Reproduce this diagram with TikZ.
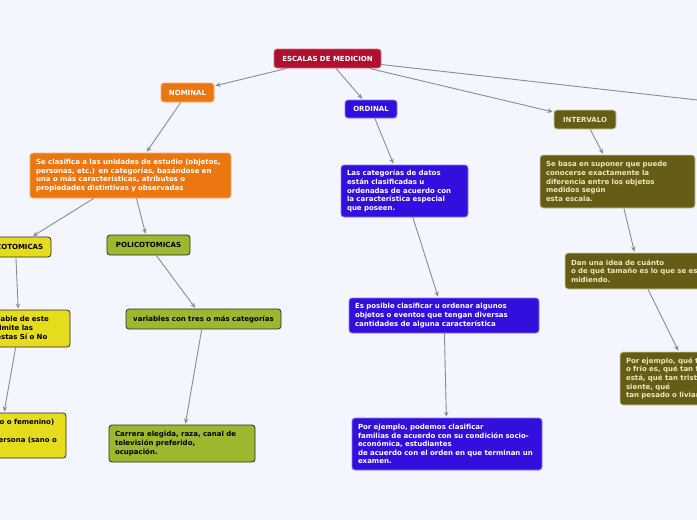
\documentclass[tikz,border=0pt]{standalone}
\usepackage{fontspec}
\setmainfont{DejaVu Sans}
\usetikzlibrary{arrows.meta}

\definecolor{bgcol}{RGB}{243,246,254}
\definecolor{linecol}{RGB}{140,140,140}
\definecolor{crimcol}{RGB}{176,16,48}
\definecolor{orngcol}{RGB}{236,119,16}
\definecolor{blucol}{RGB}{50,15,220}
\definecolor{olvcol}{RGB}{101,93,22}
\definecolor{olvtext}{RGB}{236,233,192}
\definecolor{yelwcol}{RGB}{230,220,30}
\definecolor{grencol}{RGB}{157,184,46}
\definecolor{darkline}{RGB}{45,45,30}

\begin{document}
\begin{tikzpicture}[x=1pt,y=-1pt,
    every node/.style={font=\bfseries\fontsize{7}{8.6}\selectfont,
      rounded corners=3pt, inner xsep=6pt, inner ysep=2pt, line width=.8pt},
    title/.style 2 args={minimum width=#1pt, minimum height=#2pt},
    para/.style 2 args={minimum width=#1pt, minimum height=#2pt,
      text width=#1pt-12pt, align=left},
    crim/.style={fill=crimcol, draw=crimcol!60!white, text=white},
    orng/.style={fill=orngcol, draw=orngcol!60!white, text=white},
    blu/.style={fill=blucol, draw=blucol!55!white, text=white},
    olv/.style={fill=olvcol, draw=olvtext!80!olvcol, text=olvtext},
    yelw/.style={fill=yelwcol, draw=darkline, text=black},
    gren/.style={fill=grencol, draw=darkline, text=black},
    conn/.style={draw=linecol, line width=.9pt,
      -{Stealth[length=5pt,width=4.5pt]}, shorten >=1pt}]

  \useasboundingbox (0,0) rectangle (697,520);
  \clip (0,0) rectangle (697,520);
  \fill[bgcol] (0,0) rectangle (697,520);

  % root
  \node[crim, title={107}{19}] (escalas) at (327.5,58.5) {ESCALAS DE MEDICION};
  \coordinate (escala4) at (760,107);

  % nominal
  \node[orng, title={53}{19}] (nominal) at (187.5,92.5) {NOMINAL};
  \node[orng, para={201}{45}] (nomdesc) at (130.5,175.5)
    {Se clasifica a las unidades de estudio (objetos,\\
     personas, etc.) en categorías, basándose en\\
     una o más características, atributos o\\
     propiedades distintivas y observadas};
  \node[yelw, title={71}{20}] (dicot) at (15.5,247) {DICOTOMICAS};
  \node[gren, title={83}{20}] (poli) at (148.5,245) {POLICOTOMICAS};
  \node[yelw, para={102}{37}] (dicdesc) at (19,328.5)
    {La variable de este\\ tipo admite las\\ respuestas Sí o No};
  \node[yelw, para={132}{45}] (dicex) at (0,435.5)
    {Sexo (masculino o femenino)\\[8.6pt]
     Salud de una persona (sano o\\ enfermo)};
  \node[gren, title={155}{20}] (polivar) at (203.5,319)
    {variables con tres o más categorías};
  \node[gren, para={146}{37}] (polex) at (182,443.5)
    {Carrera elegida, raza, canal de\\ televisión preferido,\\ ocupación.};

  % ordinal
  \node[blu, title={52}{18}] (ordinal) at (371,109) {ORDINAL};
  \node[blu, para={127}{52}] (orddesc) at (404.5,191)
    {Las categorías de datos\\ están clasificadas u\\ ordenadas de acuerdo con\\
     la característica especial\\ que poseen.};
  \node[blu, para={190}{35}] (ordpos) at (444,315.5)
    {Es posible clasificar u ordenar algunos\\
     objetos o eventos que tengan diversas\\
     cantidades de alguna característica};
  \node[blu, para={190}{52}] (ordex) at (447,444)
    {Por ejemplo, podemos clasificar\\
     familias de acuerdo con su condición socio-\\
     económica, estudiantes\\
     de acuerdo con el orden en que terminan un\\
     examen.};

  % intervalo
  \node[olv, title={62}{19}] (intervalo) at (585,119.5) {INTERVALO};
  \node[olv, para={155}{53}] (intdesc) at (617.5,181.5)
    {Se basa en suponer que puede\\ conocerse exactamente la\\
     diferencia entre los objetos\\ medidos según\\ esta escala.};
  \node[olv, para={148}{36}] (intidea) at (639,271)
    {Dan una idea de cuánto\\ o de qué tamaño es lo que se está\\ midiendo.};
  \node[olv, para={144}{53}] (intex) at (692,378.5)
    {Por ejemplo, qué tan caliente\\ o frío es, qué tan feliz\\
     está, qué tan triste se\\ siente, qué\\ tan pesado o liviano es.};

  \foreach \a/\b in {escalas/nominal, escalas/ordinal, escalas/intervalo,
      escalas/escala4, nominal/nomdesc, nomdesc/dicot, nomdesc/poli,
      dicot/dicdesc, dicdesc/dicex, poli/polivar, polivar/polex,
      ordinal/orddesc, orddesc/ordpos, ordpos/ordex,
      intervalo/intdesc, intdesc/intidea, intidea/intex}
    \draw[conn] (\a) -- (\b);
\end{tikzpicture}
\end{document}
